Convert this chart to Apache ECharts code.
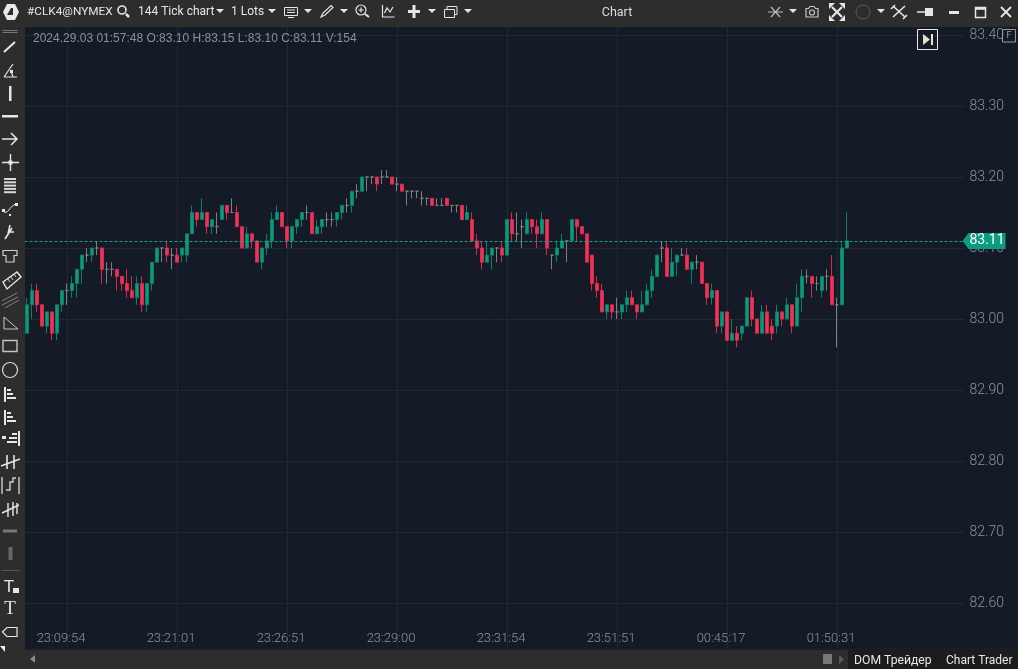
<!DOCTYPE html>
<html>
<head>
<meta charset="utf-8">
<title>Chart</title>
<style>
html,body{margin:0;padding:0;background:#151b26;overflow:hidden}
#main{width:1018px;height:669px}
</style>
<script src="https://cdn.jsdelivr.net/npm/echarts@6/dist/echarts.min.js"></script>
</head>
<body>
<div id="main"></div>
<script>
var opens = [
82.98,83.02,83.04,83.02,82.99,83.01,82.98,83.02,83.04,83.04,
83.05,83.07,83.09,83.09,83.10,83.10,83.07,83.07,83.07,83.06,
83.05,83.04,83.03,83.05,83.02,83.05,83.08,83.10,83.10,83.09,
83.09,83.09,83.09,83.12,83.15,83.14,83.15,83.13,83.13,83.14,
83.16,83.15,83.15,83.13,83.10,83.12,83.11,83.08,83.10,83.11,
83.14,83.15,83.13,83.11,83.13,83.14,83.15,83.15,83.12,83.13,
83.14,83.14,83.14,83.15,83.16,83.16,83.18,83.18,83.20,83.20,
83.20,83.20,83.20,83.20,83.19,83.19,83.18,83.18,83.18,83.17,
83.17,83.17,83.16,83.16,83.17,83.16,83.16,83.16,83.14,83.14,
83.11,83.10,83.08,83.09,83.10,83.10,83.09,83.14,83.12,83.13,
83.12,83.14,83.13,83.12,83.14,83.09,83.09,83.10,83.11,83.11,
83.14,83.13,83.12,83.09,83.05,83.04,83.01,83.02,83.01,83.01,
83.02,83.03,83.02,83.01,83.02,83.04,83.06,83.10,83.10,83.06,
83.08,83.09,83.09,83.07,83.08,83.08,83.05,83.03,83.04,82.99,
83.01,82.97,82.98,82.98,82.99,83.03,83.00,82.98,83.01,82.99,
82.99,83.01,83.00,83.02,82.99,83.03,83.06,83.06,83.05,83.04,
83.06,83.06,83.02,83.02,83.10];
var closes = [
83.02,83.04,83.02,82.99,83.01,82.98,83.02,83.04,83.04,83.05,
83.07,83.09,83.09,83.10,83.10,83.07,83.07,83.07,83.06,83.05,
83.04,83.03,83.05,83.02,83.05,83.08,83.10,83.10,83.09,83.09,
83.08,83.10,83.12,83.15,83.14,83.15,83.13,83.14,83.13,83.16,
83.15,83.15,83.13,83.10,83.12,83.11,83.08,83.10,83.11,83.14,
83.15,83.13,83.11,83.13,83.14,83.15,83.15,83.12,83.13,83.14,
83.14,83.14,83.15,83.16,83.16,83.18,83.18,83.20,83.20,83.20,
83.19,83.20,83.20,83.19,83.19,83.18,83.18,83.18,83.18,83.17,
83.17,83.16,83.16,83.16,83.16,83.16,83.16,83.14,83.15,83.11,
83.10,83.08,83.09,83.10,83.10,83.09,83.14,83.12,83.12,83.13,
83.14,83.13,83.12,83.14,83.10,83.09,83.10,83.11,83.11,83.14,
83.13,83.12,83.08,83.05,83.04,83.01,83.02,83.01,83.01,83.02,
83.03,83.02,83.01,83.02,83.04,83.06,83.09,83.10,83.06,83.08,
83.09,83.09,83.07,83.08,83.08,83.05,83.03,83.04,82.99,83.01,
82.97,82.98,82.97,82.99,83.03,83.00,82.98,83.01,82.98,82.98,
83.01,83.00,83.02,82.99,83.03,83.06,83.06,83.05,83.05,83.06,
83.06,83.02,83.02,83.10,83.11];
var lows = [
82.98,83.00,83.01,82.99,82.98,82.97,82.97,83.01,83.02,83.03,
83.03,83.05,83.08,83.08,83.09,83.05,83.05,83.06,83.04,83.04,
83.03,83.03,83.02,83.01,83.01,83.04,83.08,83.08,83.08,83.07,
83.08,83.08,83.08,83.12,83.13,83.14,83.12,83.12,83.12,83.14,
83.14,83.15,83.13,83.10,83.10,83.10,83.08,83.07,83.09,83.10,
83.14,83.13,83.10,83.10,83.12,83.13,83.14,83.12,83.12,83.12,
83.13,83.13,83.13,83.14,83.15,83.15,83.17,83.18,83.18,83.19,
83.18,83.19,83.20,83.19,83.18,83.18,83.16,83.17,83.17,83.16,
83.16,83.16,83.16,83.16,83.16,83.15,83.15,83.14,83.14,83.11,
83.09,83.07,83.08,83.07,83.08,83.08,83.09,83.11,83.11,83.10,
83.12,83.12,83.10,83.12,83.09,83.07,83.08,83.10,83.08,83.11,
83.11,83.12,83.08,83.04,83.03,83.01,83.00,83.00,83.00,83.00,
83.01,83.02,83.00,83.01,83.02,83.03,83.06,83.08,83.06,83.06,
83.06,83.09,83.07,83.05,83.07,83.05,83.02,83.02,82.98,82.98,
82.97,82.97,82.96,82.97,82.99,82.99,82.98,82.98,82.98,82.97,
82.98,82.99,83.00,82.98,82.99,83.01,83.05,83.03,83.04,83.03,
83.04,83.02,82.96,83.02,83.10];
var highs = [
83.03,83.05,83.05,83.02,83.01,83.01,83.02,83.04,83.05,83.06,
83.07,83.09,83.10,83.10,83.11,83.10,83.08,83.08,83.07,83.06,
83.07,83.06,83.06,83.06,83.05,83.08,83.10,83.10,83.11,83.10,
83.10,83.10,83.12,83.16,83.15,83.17,83.15,83.14,83.15,83.16,
83.16,83.17,83.16,83.13,83.13,83.12,83.11,83.10,83.12,83.15,
83.16,83.15,83.13,83.13,83.14,83.15,83.16,83.15,83.14,83.14,
83.15,83.15,83.15,83.16,83.17,83.18,83.19,83.20,83.20,83.20,
83.20,83.21,83.21,83.20,83.20,83.19,83.18,83.18,83.18,83.18,
83.17,83.17,83.17,83.17,83.17,83.16,83.16,83.16,83.16,83.15,
83.12,83.11,83.11,83.10,83.10,83.11,83.14,83.15,83.15,83.14,
83.15,83.14,83.14,83.15,83.14,83.09,83.11,83.12,83.11,83.14,
83.14,83.13,83.12,83.09,83.06,83.05,83.02,83.02,83.03,83.02,
83.04,83.04,83.02,83.04,83.05,83.07,83.09,83.11,83.11,83.10,
83.09,83.10,83.10,83.08,83.09,83.08,83.05,83.05,83.04,83.01,
83.01,83.00,82.99,82.99,83.03,83.04,83.00,83.02,83.02,83.00,
83.02,83.01,83.03,83.02,83.05,83.07,83.07,83.06,83.06,83.06,
83.07,83.09,83.03,83.11,83.15];
var tickTimes = ['23:09:54','23:21:01','23:26:51','23:29:00','23:31:54','23:51:51','00:45:17','01:50:31'];
var firstTick = 8, tickStep = 22, slotCount = 188;

var lastPrice = closes[closes.length - 1];
var categories = [], candles = [];
function onTick(index) {
    var n = (index - firstTick) / tickStep;
    return n >= 0 && n < tickTimes.length && n === Math.floor(n);
}
for (var i = 0; i < slotCount; i++) {
    categories.push(onTick(i) ? tickTimes[(i - firstTick) / tickStep] : '');
}
for (var j = 0; j < opens.length; j++) {
    candles.push([opens[j], closes[j], lows[j], highs[j]]);
}

// toolbar bits
var BAR = '#2d2d2d', ICON = '#e6e6e6';
var shapes = [];
function box(x, y, w, h, fill) {
    shapes.push({type: 'rect', silent: true, z: 50, shape: {x: x, y: y, width: w, height: h}, style: {fill: fill}});
}
function label(x, y, text, size, color, font, align) {
    shapes.push({type: 'text', silent: true, z: 60, x: x, y: y, style: {text: text, fill: color || ICON,
        font: (size || 12) + 'px ' + (font || 'Roboto'), textAlign: align || 'left', textVerticalAlign: 'middle'}});
}
function iconShape(d) {
    var name = 'icon' + shapes.length;
    echarts.graphic.registerShape(name, echarts.graphic.extendPath(d));
    return name;
}
function line(d, width, color) {
    shapes.push({type: iconShape(d), silent: true, z: 60,
        style: {fill: 'none', stroke: color || ICON, lineWidth: width || 1}});
}
function solid(d, color) {
    shapes.push({type: iconShape(d), silent: true, z: 60, style: {fill: color || ICON}});
}
function arrowDown(x) { solid('M' + (x - 4) + ' 9L' + (x + 4) + ' 9L' + x + ' 13Z'); }

box(0, 0, 1018, 27, BAR);
box(0, 27, 25, 642, BAR);
box(25, 648, 993, 21, BAR);
box(25, 648, 993, 2, '#1e1e1e');
box(848, 650, 170, 19, '#1c1c1c');

// top toolbar
solid('M7 4L15 4L19 12L15 20L7 20L3 12Z', '#e8e8e8');
solid('M7 15L11 8L13 8L13 15Z', BAR);
label(27, 12, '#CLK4@NYMEX', 11.8);
line('M126 14L129 17', 2.5); line('M126 10a4 4 0 1 1 -8 0a4 4 0 1 1 8 0Z', 1.6);
label(138, 12, '144 Tick chart', 12);
arrowDown(220);
label(231, 12, '1 Lots', 12);
arrowDown(272); arrowDown(308); arrowDown(344); arrowDown(432); arrowDown(468);
line('M284.5 7.5H297.5V15.5H284.5ZM287 10H295M287 12.5H295M288 17.5H294', 1);
line('M321 17L323 13L331 5.5L333 7.5L325 15Z', 1.2);
line('M365 14L369 17', 2); line('M366 10a5 5 0 1 1 -10 0a5 5 0 1 1 10 0ZM361 7.5V12.5M358.5 10H363.5', 1.2);
line('M382.5 5V17H394.5M384.5 13L387 8L390 12L393 7', 1.2);
line('M414 5V18M408 11.5H420', 3);
line('M444.5 9.5H454.5V17.5H444.5ZM447 9V6.5H457V14.5H455', 1);
label(617, 13, 'Chart', 12.5, '#dcdcdc', null, 'center');
line('M771 7L780 17M780 7L771 17M768 12H783', 1.2, '#b8b8b8');
arrowDown(793);
line('M806 8.5H808.5L810 6.5H814L815.5 8.5H818V17H806ZM814.5 12.5a2.5 2.5 0 1 1 -5 0a2.5 2.5 0 1 1 5 0Z', 1.2, '#c8c8c8');
line('M832 7L842 17M842 7L832 17', 2.2);
solid('M829 3H835L829 9ZM845 3H839L845 9ZM829 21H835L829 15ZM845 21H839L845 15Z');
line('M870 12a7 7 0 1 1 -14 0a7 7 0 1 1 14 0Z', 1, '#5a5a5a');
arrowDown(881);
line('M893 6L905 17M905 6L893 17M891 9L895 5M903 19L907 15', 1.6);
line('M917 12H925', 1.5); solid('M925 8H933V16H925Z');
box(949, 11, 10, 3, ICON);
line('M975.5 7.5H985.5V17.5H975.5ZM975.5 9H985.5', 1.5);
line('M1001 7L1011 17M1011 7L1001 17', 1.8);

// chart overlay buttons
line('M917.5 29.5H937.5V49.5H917.5Z', 1, '#e8e8e8');
solid('M923 34V45L930 39.5Z', '#e3dfd2'); box(931, 34, 2, 11, '#e3dfd2');
line('M1002.5 29.5H1015.5V42H1002.5Z', 1, '#9a9a9a');
label(1009, 36, 'F', 9, '#9a9a9a', null, 'center');
label(33, 38.5, '2024.29.03 01:57:48 O:83.10 H:83.15 L:83.10 C:83.11 V:154', 12, '#8b9097', '"Liberation Sans"');

// drawing tools on the left
line('M2.5 30.5H17.5M2.5 32.5H17.5', 1, '#777');
line('M4 52L15 42', 2);
line('M4 77H17M4 77L13 64M11 71L13 77', 1.2); solid('M10 70h3v3h-3z');
box(9, 86, 2.5, 15, ICON);
box(2, 115, 16, 2.5, ICON);
line('M2 139H17M11 133L17 139L11 145', 1.5);
line('M2 162.5H19M10.5 154V171', 1.4); solid('M8.5 160.5h4v4h-4z');
for (var k = 0; k < 5; k++) box(4, 178 + k * 3.3, 12, 2, '#d8d8d8');
line('M3 211C8 216 9 206 16 204', 1); solid('M2 209h3v3h-3zM9 214h2v2h-2zM15 203h3v3h-3z');
line('M5 239L12 228M8 232H14M8 234L10 225', 1.6);
line('M3 250.5H17V255.5H14V262H6V255.5H3Z', 1.2, '#cfcfcf');
line('M3 282L17 272L21 277L7 289Z', 1.4); line('M8 279L10 282M11 277L13 280M14 274L16 277', 1, '#cfcfcf');
line('M2 301L17 293M2 305L18 297M5 308L19 300', 0.8, '#9a9a9a');
line('M4 317L4 329L18 329Z', 1, '#c8c8c8');
line('M3 340.5H17V351.5H3Z', 1.4, '#c4c4c4');
line('M17.5 370a7.5 7.5 0 1 1 -15 0a7.5 7.5 0 1 1 15 0Z', 1.2, '#d8d8d8');
[388, 411].forEach(function (y) {
    box(4, y - 1, 2, 15, ICON);
    box(7, y + 1, 4, 2, ICON); box(7, y + 5, 6, 2, ICON); box(7, y + 9, 9, 2, ICON);
});
box(18, 431, 2, 15, ICON); box(12, 433, 5, 2, ICON); box(9, 437, 8, 2, ICON); box(7, 441, 10, 2, ICON); solid('M2 436h4v3h-4z');
line('M1 466L20 459M7 455V469M14 455V469', 1.6);
line('M2 477V494M19 477V494M6 490H10V482H13V478H16', 1.4, '#cfcfcf');
line('M2 513L19 505M8 503V517M13 502V516M17 503V514', 1.4);
line('M3 531H17', 3, '#777');
line('M10.5 547V560', 4, '#666');
box(1, 570, 19, 1, '#555');
label(9, 587, 'T', 17, ICON, '"Liberation Sans"', 'center');
box(13, 588, 6, 5, ICON);
label(10, 609, 'T', 19, ICON, '"Liberation Serif"', 'center');
line('M2.5 632L7 627.5H17V636.5H7Z', 1.2);
solid('M0 646H5V652Z', '#f0f0f0');

// bottom strip
solid('M35 655V663L30 659Z', '#8a8a8a');
box(823, 654, 9, 10, '#777');
solid('M839 655L844 659.5L839 664Z', '#5a5a5a');
label(854, 661, 'DOM Трейдер', 12.2, '#e6e6e6');
label(946, 661, 'Chart Trader', 12, '#e6e6e6');

var myChart = echarts.init(document.getElementById('main'));
var option = {
    animation: false,
    backgroundColor: '#151b26',
    grid: {left: 24.5, width: 940, top: -36, height: 710, containLabel: false, outerBoundsMode: 'none'},
    xAxis: {
        type: 'category',
        data: categories,
        boundaryGap: true,
        axisLine: {show: false},
        axisTick: {show: false},
        axisLabel: {
            inside: true, margin: 29, interval: function (index) { return onTick(index); },
            hideOverlap: false, padding: [0, 12, 0, 0],
            color: '#8e949c', fontFamily: 'Roboto', fontSize: 13, fontWeight: 300
        },
        splitLine: {
            show: true, alignWithLabel: true, interval: function (index) { return onTick(index); },
            lineStyle: {color: '#222832', width: 1}
        }
    },
    yAxis: {
        type: 'value',
        position: 'right',
        min: 82.5,
        max: 83.5,
        interval: 0.1,
        scale: true,
        axisLine: {show: false},
        axisTick: {show: false},
        axisLabel: {
            margin: 5, color: '#8e949c', fontFamily: 'Roboto', fontSize: 14, fontWeight: 300,
            formatter: function (v) { return v.toFixed(2); }
        },
        splitLine: {show: true, lineStyle: {color: '#222832', width: 1}}
    },
    series: [{
        type: 'candlestick',
        data: candles,
        barWidth: 3,
        itemStyle: {
            color: '#0a9a7c', color0: '#f0315a',
            borderColor: '#0b7f68', borderColor0: '#d42a50', borderColorDoji: '#7f7f7f',
            borderWidth: 1
        },
        markLine: {
            silent: true, symbol: 'none', animation: false,
            label: {show: false},
            lineStyle: {color: '#1f9e88', type: [3, 2], width: 1},
            data: [{yAxis: lastPrice}]
        },
        markPoint: {
            silent: true, animation: false,
            symbol: 'path://M0 8L6 0H43V16H6Z', symbolSize: [43, 16], symbolKeepAspect: false,
            symbolOffset: [22, 0],
            itemStyle: {color: '#0c9b80'},
            label: {show: true, color: '#fff', fontFamily: 'Roboto', fontSize: 14, offset: [3, 0],
                formatter: function () { return lastPrice.toFixed(2); }},
            data: [{coord: [slotCount - 1, lastPrice]}]
        }
    }],
    graphic: {elements: shapes}
};
myChart.setOption(option);
</script>
</body>
</html>
